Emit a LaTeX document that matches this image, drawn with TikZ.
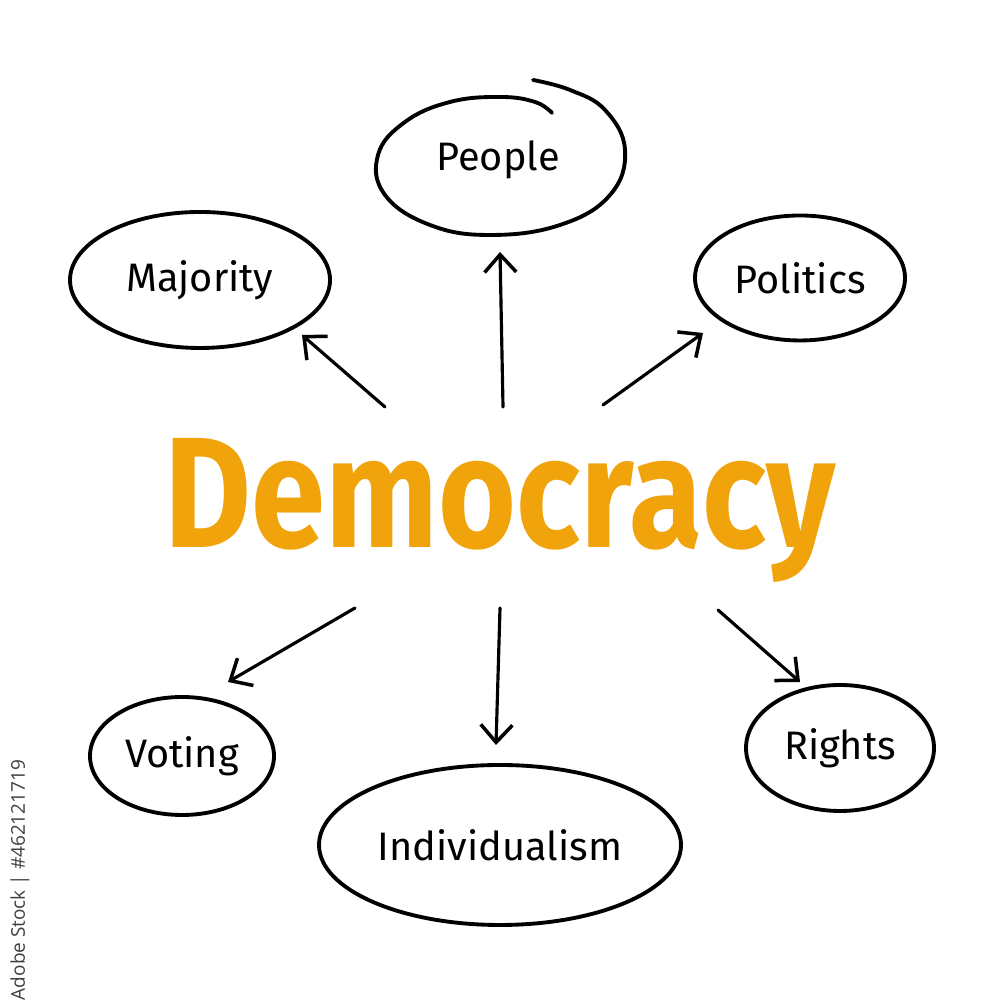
\documentclass[tikz,border=0pt]{standalone}
\usepackage{fontspec}
\setmainfont{Fira Sans}
\newfontfamily\wmfont{Open Sans}
\usetikzlibrary{shapes.geometric,arrows.meta}
\definecolor{demo}{HTML}{F0A30A}
\tikzset{
  blob/.style={draw, ellipse, line width=1.1pt, inner sep=0pt, font=\fontsize{11.3}{13}\selectfont},
  lbl/.style={font=\fontsize{11.3}{13}\selectfont},
  arr/.style={line width=0.9pt, line cap=round, -{Straight Barb[length=5pt,width=9pt,line width=1pt]}},
}
\begin{document}
\begin{tikzpicture}
\fill[white] (0,0) rectangle (10,10);
\useasboundingbox (0,0) rectangle (10,10);
% central word
\node[anchor=base, text=demo, font=\bfseries\fontsize{40}{44}\selectfont, inner sep=0pt] (dem) at (5.0,4.52) {\scalebox{0.95}[1.12]{Democracy}};
% outer nodes
\node[blob, minimum width=2.6cm, minimum height=1.36cm] (majority) at (2.0,7.2) {Majority};
\node[blob, minimum width=2.1cm, minimum height=1.25cm] (politics) at (8.0,7.22) {Politics};
\node[blob, minimum width=1.84cm, minimum height=1.18cm] (voting) at (1.82,2.44) {Voting};
\node[blob, minimum width=3.62cm, minimum height=1.6cm] (indiv) at (5.0,1.55) {Individualism};
\node[blob, minimum width=1.88cm, minimum height=1.26cm] (rights) at (8.4,2.52) {Rights};
\node[lbl] (people) at (4.98,8.4) {People};
\draw[line width=1.1pt, line cap=round] plot[smooth, tension=0.7] coordinates {
 (5.52,8.87) (5.35,8.98) (5.00,9.03) (4.50,8.98) (4.05,8.78) (3.78,8.45) (3.85,8.05) (4.30,7.75)
 (4.90,7.65) (5.60,7.75) (6.10,8.05) (6.25,8.50) (6.05,8.90) (5.70,9.10) (5.33,9.20)};
% arrow ends
\coordinate (s1) at (3.85,5.93); \coordinate (t1) at (3.02,6.65);
\coordinate (s2) at (5.03,5.93); \coordinate (t2) at (5.00,7.48);
\coordinate (s3) at (6.03,5.95); \coordinate (t3) at (7.03,6.67);
\coordinate (s4) at (3.55,3.92); \coordinate (t4) at (2.28,3.18);
\coordinate (s5) at (5.00,3.92); \coordinate (t5) at (4.96,2.55);
\coordinate (s6) at (7.18,3.90); \coordinate (t6) at (8.00,3.18);
\draw[arr] (s1) -- (t1);
\draw[arr] (s2) -- (t2);
\draw[arr] (s3) -- (t3);
\draw[arr] (s4) -- (t4);
\draw[arr] (s5) -- (t5);
\draw[arr] (s6) -- (t6);
% watermark text
\node[rotate=90, text=black!75, font=\wmfont\fontsize{5.4}{6}\selectfont] (wm) at (0.2,1.2) {Adobe Stock | \#462121719};
\end{tikzpicture}
\end{document}
